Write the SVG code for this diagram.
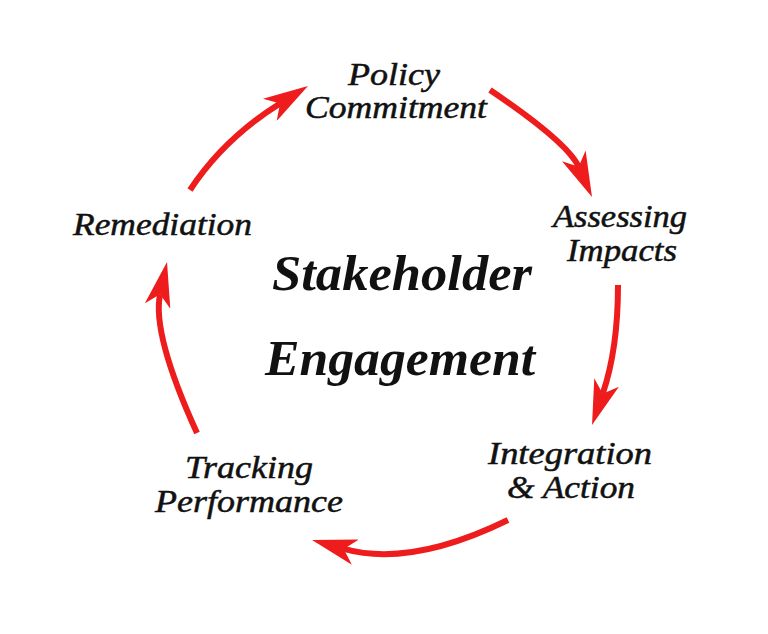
<svg xmlns="http://www.w3.org/2000/svg" width="768" height="634" viewBox="0 0 768 634">
  <style>
    .lbl { font-family: "Liberation Serif", "Times New Roman", serif; font-style: italic; font-size: 31px; fill: #111; stroke: #111; stroke-width: 0.5; }
    .title { font-family: "Liberation Serif", "Times New Roman", serif; font-style: italic; font-weight: bold; font-size: 50px; fill: #111; }
    .arr { fill: none; stroke: #ee1c1c; stroke-width: 6; stroke-linecap: butt; marker-end: url(#head); }
  </style>
  <defs>
    <marker id="head" viewBox="0 0 45 26" refX="12" refY="13" markerWidth="45" markerHeight="26" markerUnits="userSpaceOnUse" orient="auto">
      <polygon points="45,13 0,0 12,13 0,26" fill="#ee1c1c"/>
    </marker>
  </defs>
  <rect width="768" height="634" fill="#ffffff"/>

  <g id="connectors">
    <path class="arr" d="M190,190 Q224,138.5 280,103.5"/>
    <path class="arr" d="M490,90 Q567.8,142.5 578.6,166.8"/>
    <path class="arr" d="M618,285 Q618,349 602.7,393.8"/>
    <path class="arr" d="M508,520 Q410.7,567.6 343.8,548.9"/>
    <path class="arr" d="M197,433 Q151.7,333.5 160.1,294.3"/>
  </g>

  <g id="center">
    <text class="title" x="272" y="290" textLength="260" lengthAdjust="spacingAndGlyphs">Stakeholder</text>
    <text class="title" x="265" y="375" textLength="270" lengthAdjust="spacingAndGlyphs">Engagement</text>
  </g>
  <g id="policy">
    <text class="lbl" x="348" y="85" textLength="92" lengthAdjust="spacingAndGlyphs">Policy</text>
    <text class="lbl" x="305" y="118" textLength="182" lengthAdjust="spacingAndGlyphs">Commitment</text>
  </g>
  <g id="assessing">
    <text class="lbl" x="553" y="227" textLength="134" lengthAdjust="spacingAndGlyphs">Assessing</text>
    <text class="lbl" x="567" y="261" textLength="110" lengthAdjust="spacingAndGlyphs">Impacts</text>
  </g>
  <g id="integration">
    <text class="lbl" x="488" y="464" textLength="164" lengthAdjust="spacingAndGlyphs">Integration</text>
    <text class="lbl" x="507" y="498" textLength="128" lengthAdjust="spacingAndGlyphs">&amp; Action</text>
  </g>
  <g id="tracking">
    <text class="lbl" x="185" y="478" textLength="128" lengthAdjust="spacingAndGlyphs">Tracking</text>
    <text class="lbl" x="155" y="512" textLength="188" lengthAdjust="spacingAndGlyphs">Performance</text>
  </g>
  <g id="remediation">
    <text class="lbl" x="73" y="235" textLength="179" lengthAdjust="spacingAndGlyphs">Remediation</text>
  </g>
</svg>
